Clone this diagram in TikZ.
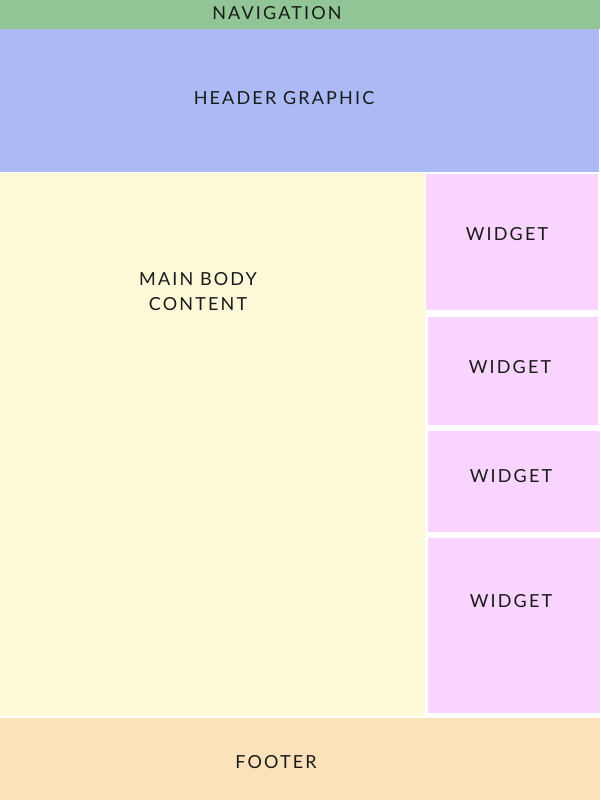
\documentclass[tikz,border=0pt]{standalone}
\usepackage{fontspec}
\setmainfont{Lato}[LetterSpace=12]
\definecolor{navc}{HTML}{91C595}
\definecolor{headc}{HTML}{ABB9F4}
\definecolor{mainc}{HTML}{FCF8D8}
\definecolor{widc}{HTML}{F9D4FE}
\definecolor{footc}{HTML}{FCE2BA}
\definecolor{txtc}{HTML}{1A1A1A}
\begin{document}
\begin{tikzpicture}[x=1pt,y=-1pt,
  lbl/.style={text=txtc,font=\fontsize{18}{25}\selectfont,align=center,inner sep=0pt}]
\fill[white] (0,0) rectangle (600,800);
\useasboundingbox (0,0) rectangle (600,800);
\fill[navc] (0,0) rectangle (600,29.5);
\fill[headc] (0,29.5) rectangle (599,172);
\fill[mainc] (0,172.5) rectangle (424.5,715.5);
\fill[widc] (425.7,174) rectangle (598.3,310);
\fill[widc] (427.5,316.7) rectangle (598.3,424.7);
\fill[widc] (427.5,431.3) rectangle (600,531.7);
\fill[widc] (427.5,537.7) rectangle (600,713);
\fill[footc] (0,717.7) rectangle (600,800);
\node[lbl] (nav) at (277,13) {NAVIGATION};
\node[lbl] (head) at (284,98) {HEADER GRAPHIC};
\node[lbl] (body) at (198,291.5) {MAIN BODY\\CONTENT};
\node[lbl] (w1) at (507,234) {WIDGET};
\node[lbl] (w2) at (510,367) {WIDGET};
\node[lbl] (w3) at (511,476) {WIDGET};
\node[lbl] (w4) at (511,601) {WIDGET};
\node[lbl] (foot) at (276,762) {FOOTER};
\end{tikzpicture}
\end{document}
